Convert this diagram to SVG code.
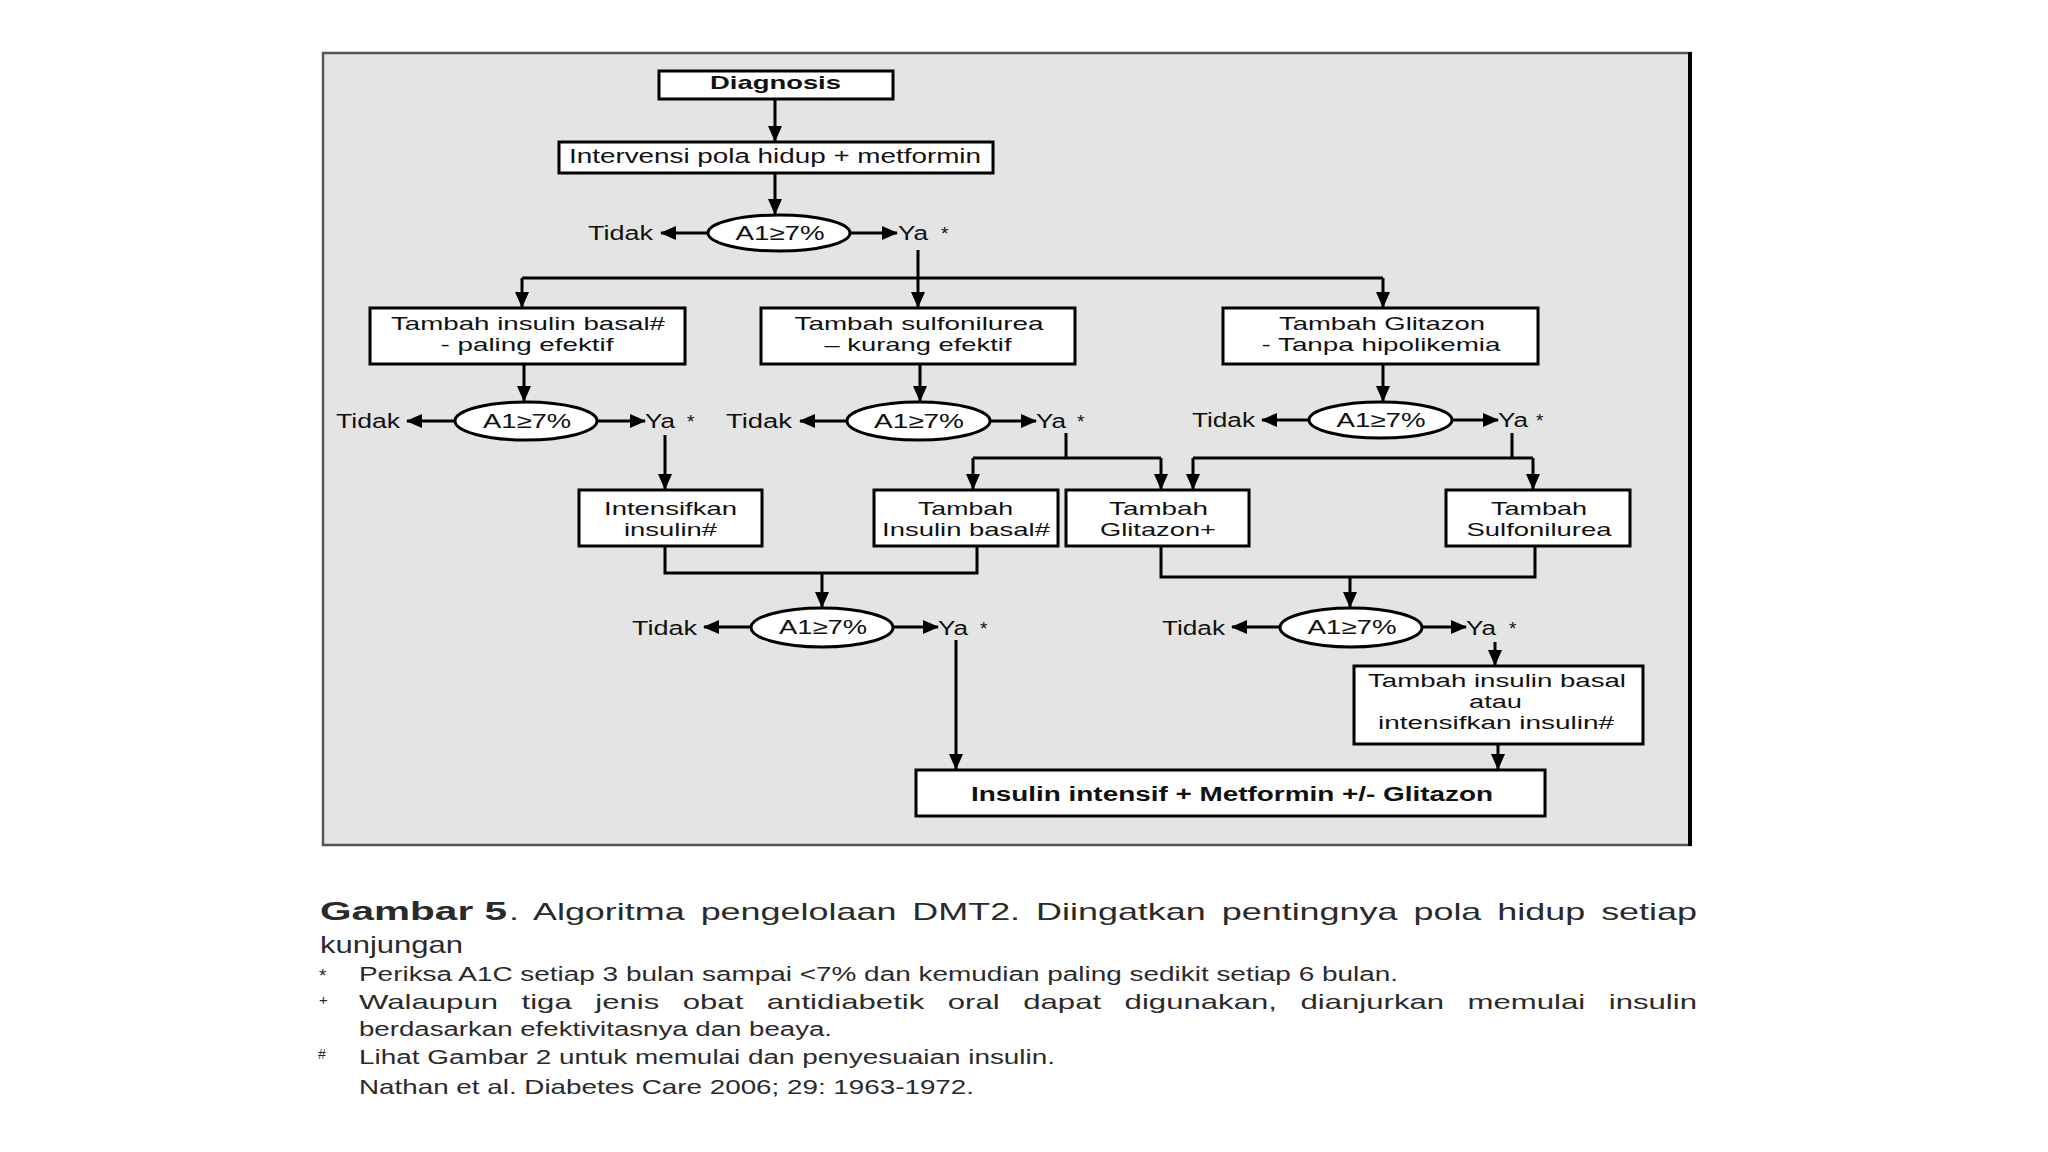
<svg xmlns="http://www.w3.org/2000/svg" width="2048" height="1152" viewBox="0 0 2048 1152">
<defs>
<marker id="ah" markerUnits="userSpaceOnUse" markerWidth="16" markerHeight="14" refX="15" refY="7" orient="auto">
<path d="M0,0 L16,7 L0,14 z" fill="#000"/>
</marker>
<style>
.box{fill:#fff;stroke:#000;stroke-width:3}
.ell{fill:#fff;stroke:#000;stroke-width:3}
.ln{fill:none;stroke:#000;stroke-width:3}
.ar{fill:none;stroke:#000;stroke-width:3;marker-end:url(#ah)}
text{font-family:"Liberation Sans",Arial,sans-serif;fill:#111}
.t{font-size:19px;text-anchor:middle}
.b{font-weight:bold}
.lab{font-size:20px}
.ev{font-size:20px;text-anchor:middle}
.star{font-size:19px}
.cap{fill:#2a2a2a}
</style>
</defs>
<rect width="2048" height="1152" fill="#fff"/>
<g id="frame">
<rect x="323" y="53" width="1367" height="792" fill="#e4e4e4" stroke="#555" stroke-width="2.5"/>
<line x1="1690" y1="52" x2="1690" y2="846" stroke="#000" stroke-width="4"/>
</g>

<g id="connectors">
<path class="ar" d="M775,99 V141"/>
<path class="ar" d="M775,173 V214"/>
<path class="ar" d="M708,233 H661"/>
<path class="ar" d="M850,233 H897"/>
<path class="ar" d="M918,250 V307"/>
<path class="ln" d="M522,278 H1383"/>
<path class="ar" d="M522,278 V307"/>
<path class="ar" d="M1383,278 V307"/>
<path class="ar" d="M524,364 V401"/>
<path class="ar" d="M455,421 H407"/>
<path class="ar" d="M597,421 H645"/>
<path class="ar" d="M665,435 V489"/>
<path class="ar" d="M920,364 V401"/>
<path class="ar" d="M847,421 H800"/>
<path class="ar" d="M990,421 H1036"/>
<path class="ln" d="M1066,433 V458 M973,458 H1161"/>
<path class="ar" d="M973,458 V489"/>
<path class="ar" d="M1161,458 V489"/>
<path class="ar" d="M1383,364 V401"/>
<path class="ar" d="M1309,420 H1262"/>
<path class="ar" d="M1452,420 H1498"/>
<path class="ln" d="M1512,433 V458 M1193,458 H1533"/>
<path class="ar" d="M1193,458 V489"/>
<path class="ar" d="M1533,458 V489"/>
<path class="ln" d="M665,546 V573 H977 V546"/>
<path class="ar" d="M822,573 V607"/>
<path class="ln" d="M1161,546 V577 H1535 V546"/>
<path class="ar" d="M1350,577 V607"/>
<path class="ar" d="M751,627 H704"/>
<path class="ar" d="M893,627 H938"/>
<path class="ar" d="M956,640 V769"/>
<path class="ar" d="M1280,627 H1232"/>
<path class="ar" d="M1422,627 H1466"/>
<path class="ar" d="M1495,642 V665"/>
<path class="ar" d="M1498,744 V769"/>
</g>

<g id="diagnosis">
<rect class="box" x="659" y="71" width="234" height="28"/>
<text class="t b" x="775.5" y="89" textLength="131" lengthAdjust="spacingAndGlyphs">Diagnosis</text>
</g>
<g id="intervensi">
<rect class="box" x="559" y="142" width="434" height="31"/>
<text class="t" style="font-size:20px" x="775" y="163" textLength="412" lengthAdjust="spacingAndGlyphs">Intervensi pola hidup + metformin</text>
</g>
<g id="check1">
<ellipse class="ell" cx="779" cy="233" rx="71" ry="18"/>
<text class="ev" x="780" y="240" textLength="89" lengthAdjust="spacingAndGlyphs">A1≥7%</text>
<text class="lab" x="588" y="240" textLength="65" lengthAdjust="spacingAndGlyphs">Tidak</text>
<text class="lab" x="898" y="240" textLength="30" lengthAdjust="spacingAndGlyphs">Ya</text>
<text class="star" x="941" y="240">*</text>
</g>

<g id="insulin-basal">
<rect class="box" x="370" y="308" width="315" height="56"/>
<text class="t" x="528" y="330" textLength="274" lengthAdjust="spacingAndGlyphs">Tambah insulin basal#</text>
<text class="t" x="527" y="351" textLength="173" lengthAdjust="spacingAndGlyphs">- paling efektif</text>
</g>
<g id="sulfonilurea">
<rect class="box" x="761" y="308" width="314" height="56"/>
<text class="t" x="919" y="330" textLength="249" lengthAdjust="spacingAndGlyphs">Tambah sulfonilurea</text>
<text class="t" x="918" y="351" textLength="187" lengthAdjust="spacingAndGlyphs">– kurang efektif</text>
</g>
<g id="glitazon">
<rect class="box" x="1223" y="308" width="315" height="56"/>
<text class="t" x="1382" y="330" textLength="206" lengthAdjust="spacingAndGlyphs">Tambah Glitazon</text>
<text class="t" x="1381" y="351" textLength="239" lengthAdjust="spacingAndGlyphs">- Tanpa hipolikemia</text>
</g>

<g id="check2a">
<ellipse class="ell" cx="526" cy="421" rx="71" ry="19"/>
<text class="ev" x="527" y="428" textLength="88" lengthAdjust="spacingAndGlyphs">A1≥7%</text>
<text class="lab" x="336" y="428" textLength="64" lengthAdjust="spacingAndGlyphs">Tidak</text>
<text class="lab" x="645" y="428" textLength="30" lengthAdjust="spacingAndGlyphs">Ya</text>
<text class="star" x="687" y="428">*</text>
</g>
<g id="check2b">
<ellipse class="ell" cx="918.5" cy="421" rx="71.5" ry="19"/>
<text class="ev" x="919" y="428" textLength="90" lengthAdjust="spacingAndGlyphs">A1≥7%</text>
<text class="lab" x="726" y="428" textLength="66" lengthAdjust="spacingAndGlyphs">Tidak</text>
<text class="lab" x="1036" y="428" textLength="30" lengthAdjust="spacingAndGlyphs">Ya</text>
<text class="star" x="1077" y="428">*</text>
</g>
<g id="check2c">
<ellipse class="ell" cx="1380.5" cy="420" rx="71.5" ry="18"/>
<text class="ev" x="1381" y="427" textLength="89" lengthAdjust="spacingAndGlyphs">A1≥7%</text>
<text class="lab" x="1192" y="427" textLength="63" lengthAdjust="spacingAndGlyphs">Tidak</text>
<text class="lab" x="1498" y="427" textLength="30" lengthAdjust="spacingAndGlyphs">Ya</text>
<text class="star" x="1536" y="427">*</text>
</g>

<g id="intensifkan">
<rect class="box" x="579" y="490" width="183" height="56"/>
<text class="t" x="670.5" y="515" textLength="133" lengthAdjust="spacingAndGlyphs">Intensifkan</text>
<text class="t" x="670.5" y="536" textLength="93" lengthAdjust="spacingAndGlyphs">insulin#</text>
</g>
<g id="tambah-insulin-basal">
<rect class="box" x="874" y="490" width="184" height="56"/>
<text class="t" x="965.5" y="515" textLength="95" lengthAdjust="spacingAndGlyphs">Tambah</text>
<text class="t" x="966" y="536" textLength="168" lengthAdjust="spacingAndGlyphs">Insulin basal#</text>
</g>
<g id="tambah-glitazon">
<rect class="box" x="1066" y="490" width="183" height="56"/>
<text class="t" x="1158.5" y="515" textLength="99" lengthAdjust="spacingAndGlyphs">Tambah</text>
<text class="t" x="1158" y="536" textLength="116" lengthAdjust="spacingAndGlyphs">Glitazon+</text>
</g>
<g id="tambah-sulfonilurea">
<rect class="box" x="1446" y="490" width="184" height="56"/>
<text class="t" x="1539" y="515" textLength="96" lengthAdjust="spacingAndGlyphs">Tambah</text>
<text class="t" x="1539" y="536" textLength="145" lengthAdjust="spacingAndGlyphs">Sulfonilurea</text>
</g>

<g id="check3a">
<ellipse class="ell" cx="822" cy="627.5" rx="71" ry="19.5"/>
<text class="ev" x="823" y="634" textLength="88" lengthAdjust="spacingAndGlyphs">A1≥7%</text>
<text class="lab" x="632" y="635" textLength="65" lengthAdjust="spacingAndGlyphs">Tidak</text>
<text class="lab" x="938" y="635" textLength="30" lengthAdjust="spacingAndGlyphs">Ya</text>
<text class="star" x="980" y="635">*</text>
</g>
<g id="check3b">
<ellipse class="ell" cx="1351" cy="627.5" rx="71" ry="19.5"/>
<text class="ev" x="1352" y="634" textLength="89" lengthAdjust="spacingAndGlyphs">A1≥7%</text>
<text class="lab" x="1162" y="635" textLength="63" lengthAdjust="spacingAndGlyphs">Tidak</text>
<text class="lab" x="1466" y="635" textLength="30" lengthAdjust="spacingAndGlyphs">Ya</text>
<text class="star" x="1509" y="635">*</text>
</g>

<g id="insulin-basal-atau">
<rect class="box" x="1354" y="666" width="289" height="78"/>
<text class="t" style="font-size:18px" x="1497" y="687" textLength="258" lengthAdjust="spacingAndGlyphs">Tambah insulin basal</text>
<text class="t" style="font-size:18px" x="1495.5" y="708" textLength="53" lengthAdjust="spacingAndGlyphs">atau</text>
<text class="t" style="font-size:18px" x="1496" y="729" textLength="236" lengthAdjust="spacingAndGlyphs">intensifkan insulin#</text>
</g>
<g id="insulin-intensif">
<rect class="box" x="916" y="770" width="629" height="46"/>
<text class="t b" style="font-size:20px" x="1232" y="801" textLength="522" lengthAdjust="spacingAndGlyphs">Insulin intensif + Metformin +/- Glitazon</text>
</g>

<g id="caption">
<text class="cap b" style="font-size:25px" x="320" y="920" textLength="187" lengthAdjust="spacingAndGlyphs">Gambar 5</text>
<text class="cap" style="font-size:24px;word-spacing:4px" x="509" y="920" textLength="1188" lengthAdjust="spacingAndGlyphs">. Algoritma pengelolaan DMT2. Diingatkan pentingnya pola hidup setiap</text>
<text class="cap" style="font-size:24px" x="320" y="953" textLength="143" lengthAdjust="spacingAndGlyphs">kunjungan</text>
<text class="cap" style="font-size:19px" x="319" y="982">*</text>
<text class="cap" style="font-size:15px" x="319" y="1005">+</text>
<text class="cap" style="font-size:20px" x="359" y="981" textLength="1039" lengthAdjust="spacingAndGlyphs">Periksa A1C setiap 3 bulan sampai &lt;7% dan kemudian paling sedikit setiap 6 bulan.</text>
<text class="cap" style="font-size:21px;word-spacing:10px" x="359" y="1009" textLength="1338" lengthAdjust="spacingAndGlyphs">Walaupun tiga jenis obat antidiabetik oral dapat digunakan, dianjurkan memulai insulin</text>
<text class="cap" style="font-size:20px" x="359" y="1036" textLength="473" lengthAdjust="spacingAndGlyphs">berdasarkan efektivitasnya dan beaya.</text>
<text class="cap" style="font-size:14px" x="318" y="1059">#</text>
<text class="cap" style="font-size:20px" x="359" y="1064" textLength="696" lengthAdjust="spacingAndGlyphs">Lihat Gambar 2 untuk memulai dan penyesuaian insulin.</text>
<text class="cap" style="font-size:21px" x="359" y="1094" textLength="615" lengthAdjust="spacingAndGlyphs">Nathan et al. Diabetes Care 2006; 29: 1963-1972.</text>
</g>
</svg>
